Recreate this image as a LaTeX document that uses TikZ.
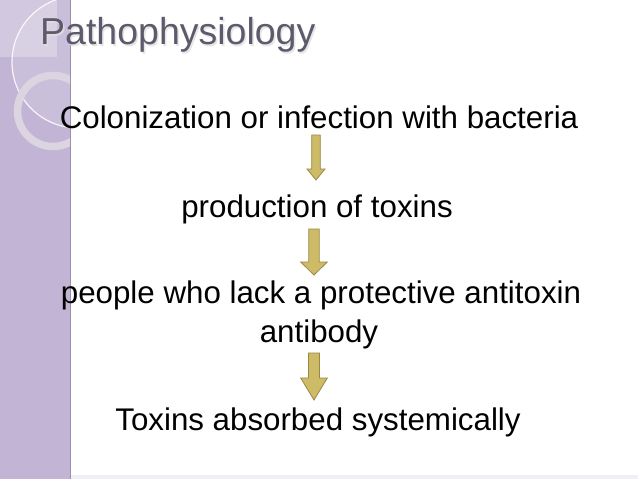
\documentclass[tikz,border=0pt]{standalone}
\usepackage{fontspec}
\setmainfont{Liberation Sans}
\definecolor{stripc}{HTML}{C1B4D4}
\definecolor{stripl}{HTML}{D2C8DF}
\definecolor{ringc}{HTML}{DAD5E1}
\definecolor{titlec}{HTML}{5F5A6B}
\definecolor{arrfill}{HTML}{CDBB68}
\definecolor{arredge}{HTML}{9A8742}
\definecolor{bandc}{HTML}{EEF0F6}
\tikzset{
  body/.style={anchor=base, font=\fontsize{31.3}{36}\selectfont, text=black, inner sep=0pt},
  blockarrow/.style={fill=arrfill, draw=arredge, line width=0.8pt, line join=miter},
}
\newcommand{\blockarr}[7]{% name, cx, top, headstart, tip, shafthalf, headhalf
  \coordinate (#1) at (#2,#5);
  \draw[blockarrow] (#2-#6,#3) -- (#2+#6,#3) -- (#2+#6,#4) -- (#2+#7,#4) -- (#2,#5)
    -- (#2-#7,#4) -- (#2-#6,#4) -- cycle;
}
\begin{document}
\begin{tikzpicture}[x=1pt,y=-1pt]
\useasboundingbox (0,0) rectangle (638,479);
\fill[white] (0,0) rectangle (638,479);
% bottom band
\fill[bandc] (70,475) rectangle (638,479);
% left strip
\fill[stripc] (0,0) rectangle (70,479);
\begin{scope}
  \clip (0,0) rectangle (70,479);
  \fill[stripl] (0,0) rectangle (57,57);
  \fill[white, opacity=0.15] (78,62) circle (66);
  \draw[white, opacity=0.85, line width=1.2pt] (78,62) circle (66);
  \draw[ringc, line width=7.5pt] (53,111) circle (35.5);
\end{scope}
\draw[stripc!80!black, line width=0.5pt] (70,0) -- (70,479);
% title
\node[anchor=base west, inner sep=0pt, font=\fontsize{37.5}{40}\selectfont, text=black!12, opacity=0.8] at (41.5,46.5) {Pathophysiology};
\node (title) [anchor=base west, inner sep=0pt, font=\fontsize{37.5}{40}\selectfont, text=titlec] at (40,45) {Pathophysiology};
% body
\node (t1) [body] at (319,128) {Colonization or infection with bacteria};
\node (t2) [body] at (317,217) {production of toxins};
\node (t3) [body] at (321,303) {people who lack a protective antitoxin};
\node (t3b) [body] at (319,342) {antibody};
\node (t4) [body] at (318,430) {Toxins absorbed systemically};
% arrows
\blockarr{a1}{316}{135}{169}{180}{4.3}{9}
\blockarr{a2}{314}{229}{262}{275}{5.2}{13.3}
\blockarr{a3}{314}{353}{378}{400}{5.5}{13.3}
\end{tikzpicture}
\end{document}
